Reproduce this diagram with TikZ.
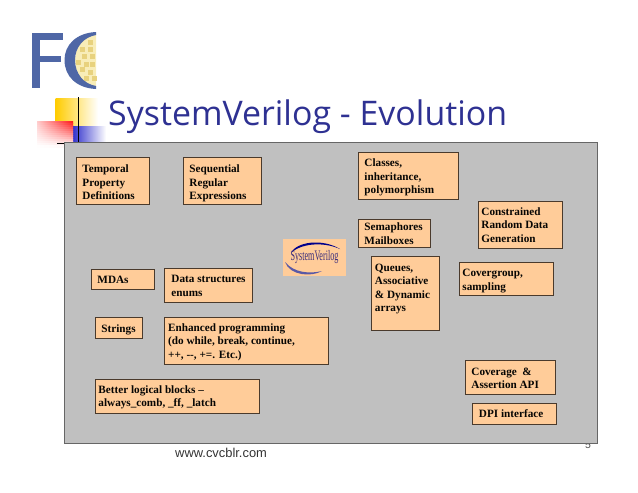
\documentclass[tikz,border=0pt]{standalone}
\usepackage{fontspec}
\setmainfont{Liberation Serif}
\setsansfont{Liberation Sans}
\newfontfamily\titlefont{Open Sans}
\definecolor{boxfill}{HTML}{FFCC99}
\definecolor{boxline}{HTML}{4A3A2C}
\definecolor{panel}{HTML}{C0C0C0}
\definecolor{panelline}{HTML}{666666}
\definecolor{titleblue}{HTML}{2E3192}
\definecolor{fcblue}{HTML}{4F67A6}
\definecolor{fcyel}{HTML}{F8EDB8}
\definecolor{fcchk}{HTML}{E8D27E}
\definecolor{decoyel}{HTML}{FFCC00}
\definecolor{decoblue}{HTML}{3333CC}
\definecolor{decored}{HTML}{FF1A1A}
\definecolor{logoink}{HTML}{3A2C7C}
\tikzset{
  x=1pt,y=-1pt,
  infobox/.style={draw=boxline,line width=0.9pt,fill=boxfill,inner sep=0pt,anchor=north west,
    font=\fontsize{11.2}{13.6}\selectfont\bfseries,text=black!90!boxline},
  logotext/.style={inner sep=0pt,font=\fontsize{14.5}{14.5}\selectfont,text=logoink},
}
% name, x1, y1, width, height, left pad, first baseline offset, text
\newcommand{\infob}[8]{%
  \node[infobox] (#1) at (#2,#3) {\parbox[b][#5pt][t]{#4pt}{\raggedright\leftskip=#6pt\rule{0pt}{#7pt}#8\par}};}
\begin{document}
\begin{tikzpicture}
\useasboundingbox (0,0) rectangle (638,493);
% FC logo
\fill[fcblue] (32,33) rectangle (63,40);
\fill[fcblue] (32,33) rectangle (40,88);
\fill[fcblue] (40,56) rectangle (61,62);
\fill[fcyel] (96,33) .. controls (82,36) and (75,48) .. (75,60) .. controls (75,74) and (82,84) .. (96,87) -- cycle;
\foreach \a/\b in {88/40,80/47,88/47,82/54,90/54,76/60,84/62,90/62,80/67,88/70,84/76,92/76}{
  \fill[fcchk] (\a,\b) rectangle ++(5,5);}
\fill[fcblue] (96,32) .. controls (76,33) and (64.5,45) .. (64.5,60) .. controls (64.5,76) and (76,88) .. (96,89)
  -- (96,86) .. controls (84,84) and (75,74) .. (75,60) .. controls (75,47) and (84,37) .. (96,35) -- cycle;
% decoration squares
\shade[left color=decoyel,middle color=decoyel,right color=white] (55.5,98) rectangle (98,142);
\shade[left color=decoblue,middle color=decoblue,right color=white] (73,126) rectangle (106,142);
\foreach \i in {0,...,12}{
  \pgfmathsetmacro{\mixv}{100-\i*8}
  \pgfmathsetmacro{\mixl}{22-\i*1.8}
  \shade[left color=decored!\mixl!white,right color=decored!\mixv!white] (37,{121+\i*2}) rectangle (73,{123.2+\i*2});
}
\draw[black,line width=1pt] (78,97) -- (78,142);
\draw[black,line width=1pt] (57,143) -- (65,143);
% title
\node[inner sep=0pt,anchor=base west,text=titleblue,font=\titlefont\fontsize{33.9}{40}\selectfont] (title) at (108,125) {SystemVerilog - Evolution};
% page number and panel
\node[inner sep=0pt,anchor=base,font=\sffamily\fontsize{10.5}{12}\selectfont,text=black!70] (page) at (588,448) {5};
\node[draw=panelline,line width=1pt,fill=panel,inner sep=0pt,minimum width=533pt,minimum height=301pt,anchor=north west] (panel) at (64,142) {};
% footer
\node[inner sep=0pt,anchor=base west,font=\sffamily\fontsize{12.9}{16}\selectfont,text=black!80] (web) at (175,457) {www.cvcblr.com};
% boxes
\infob{temporal}{76}{157}{73}{47}{6}{15}{Temporal\\Property\\Definitions}
\infob{sequential}{183}{157}{78}{47}{6}{15}{Sequential\\Regular\\Expressions}
\infob{classes}{358}{152}{100}{47}{6}{14}{Classes,\\inheritance,\\polymorphism}
\infob{constrained}{478}{201}{84}{47}{3}{13.7}{Constrained\\Random Data\\Generation}
\infob{semaphores}{358}{219}{72}{28}{6}{11}{Semaphores\\Mailboxes}
\infob{queues}{371}{256}{68}{74}{3.5}{14.7}{Queues,\\Associative\\\& Dynamic\\arrays}
\infob{covergroup}{459}{262}{94}{33}{3}{14}{Covergroup,\\sampling}
\infob{mdas}{91}{269}{63}{20}{6}{14}{MDAs}
\infob{datastruct}{164}{268}{88}{34}{7}{14}{Data structures\\enums}
\infob{strings}{95}{317}{47}{21}{6}{14.7}{Strings}
\infob{enhanced}{164}{317}{164}{47}{3.7}{13.8}{Enhanced programming\\(do while, break, continue,\\++, -{}-, +=. Etc.)}
\infob{better}{95}{379}{164}{34}{3}{13.7}{Better logical blocks –\\always\_comb, \_ff, \_latch}
\infob{coverage}{465}{360}{90}{34}{6}{14.7}{Coverage~~\&\\Assertion API}
\infob{dpi}{472}{403}{84}{21}{6.5}{14}{DPI interface}
% SystemVerilog logo
\fill[boxfill] (283,239) rectangle (346,276);
\fill[blue!55!black] (291,253) .. controls (296,242) and (322,238) .. (340,249)
  .. controls (322,241) and (300,244) .. (291,253) -- cycle;
\fill[blue!30!gray] (285,262) .. controls (290,276) and (312,277) .. (322,271)
  .. controls (310,274) and (294,273) .. (285,262) -- cycle;
\node[logotext,xscale=0.56] (logo) at (314.5,257.5) {SystemVerilog};
\end{tikzpicture}
\end{document}
